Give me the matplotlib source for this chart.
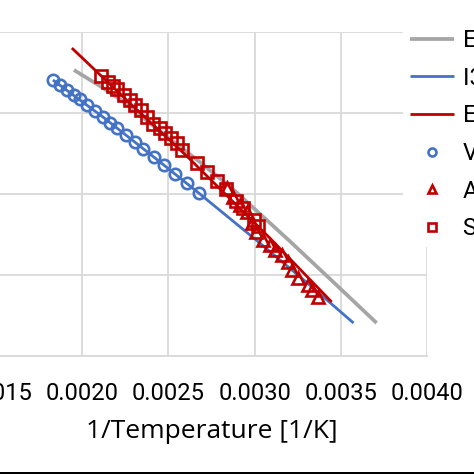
import matplotlib
matplotlib.use("Agg")
import matplotlib.pyplot as plt
from matplotlib.patches import Rectangle

plt.rcParams['font.family'] = ['Roboto', 'DejaVu Sans']
plt.rcParams['font.size'] = 17

# ---- data (x = 1/T [1/K], y = arbitrary log-scale units; y labels are cropped) ----
gray_x = [0.001952, 0.002103, 0.002218, 0.002450, 0.002682, 0.002867, 0.003203, 0.003493, 0.003708]
gray_y = [3.531, 3.333, 3.173, 2.778, 2.395, 2.074, 1.420, 0.840, 0.407]

blue_x = [0.001830, 0.002120, 0.002415, 0.002676, 0.003030, 0.003319, 0.003574]
blue_y = [3.407, 2.951, 2.457, 2.012, 1.395, 0.877, 0.407]

red_x = [0.001940, 0.002276, 0.002612, 0.003088, 0.003447]
red_y = [3.802, 3.123, 2.457, 1.457, 0.667]

circ_x = [0.001830, 0.001871, 0.001911, 0.001952, 0.001987, 0.002027, 0.002074, 0.002120, 0.002161,
          0.002201, 0.002253, 0.002305, 0.002352, 0.002415, 0.002473, 0.002537, 0.002607, 0.002676]
circ_y = [3.407, 3.346, 3.284, 3.222, 3.173, 3.099, 3.025, 2.951, 2.877,
          2.815, 2.728, 2.642, 2.556, 2.457, 2.358, 2.247, 2.136, 2.012]

tri_x = [0.002838, 0.002873, 0.002914, 0.002954, 0.002983, 0.003006, 0.003047, 0.003088,
         0.003117, 0.003157, 0.003192, 0.003215, 0.003250, 0.003308, 0.003331, 0.003366]
tri_y = [2.074, 1.963, 1.864, 1.778, 1.642, 1.531, 1.432, 1.370,
         1.309, 1.247, 1.160, 1.062, 0.963, 0.877, 0.815, 0.728]

sq_x = [0.002108, 0.002149, 0.002178, 0.002201, 0.002242, 0.002276, 0.002305, 0.002340,
        0.002375, 0.002410, 0.002450, 0.002479, 0.002514, 0.002549, 0.002578, 0.002665,
        0.002723, 0.002780, 0.002833, 0.002891, 0.002931, 0.002995, 0.003018]
sq_y = [3.457, 3.383, 3.333, 3.296, 3.222, 3.160, 3.099, 3.037,
        2.951, 2.864, 2.815, 2.753, 2.691, 2.630, 2.543, 2.383,
        2.272, 2.160, 2.062, 1.914, 1.827, 1.679, 1.605]

x_ticks = [0.0015, 0.0020, 0.0025, 0.0030, 0.0035, 0.0040]
x_ticklabels = ["0.0015", "0.0020", "0.0025", "0.0030", "0.0035", "0.0040"]
y_ticks = [0, 1, 2, 3, 4]

labels = ["EOS prediction", "I3 model", "Eq. fit", "Vapor pressure data", "Antoine data", "Saturation data"]

GRAY = "#A5A5A5"
BLUE = "#4472C4"
RED = "#C00000"
GRID = "#D9D9D9"

fig = plt.figure(figsize=(4.74, 4.74), dpi=100)
W = H = 474.0
ax = fig.add_axes([-4 / W, 118 / H, 431 / W, 324 / H])

ax.plot(gray_x, gray_y, color=GRAY, lw=2.7, label=labels[0], zorder=3, solid_capstyle='butt')
ax.plot(blue_x, blue_y, color=BLUE, lw=2.0, label=labels[1], zorder=3, solid_capstyle='butt')
ax.plot(red_x, red_y, color=RED, lw=2.0, label=labels[2], zorder=3, solid_capstyle='butt')
ax.plot(circ_x, circ_y, ls='none', marker='o', ms=8.2, mew=1.9, mfc='none', mec=BLUE,
        label=labels[3], zorder=4)
ax.plot(tri_x, tri_y, ls='none', marker='^', ms=8.2, mew=1.9, mfc='none', mec=RED,
        label=labels[4], zorder=4)
ax.plot(sq_x, sq_y, ls='none', marker='s', ms=8.2, mew=1.9, mfc='none', mec=RED,
        label=labels[5], zorder=4)

ax.set_xlim(0.0015, 0.0040)
ax.set_ylim(0, 4)
ax.set_xticks(x_ticks)
ax.set_xticklabels(x_ticklabels)
ax.set_yticks(y_ticks)
ax.tick_params(axis='both', length=0)
ax.tick_params(axis='x', pad=18.5)
ax.tick_params(axis='y', labelleft=False)
ax.grid(True, color=GRID, lw=1.3)
ax.set_axisbelow(True)
for s in ['top', 'right', 'left']:
    ax.spines[s].set_visible(False)
ax.spines['bottom'].set_color(GRID)
ax.spines['bottom'].set_linewidth(1.3)
ax.set_xlabel("1/Temperature [1/K]", labelpad=10, fontsize=19, family=['Open Sans', 'DejaVu Sans'])

leg = ax.legend(loc='upper left', bbox_to_anchor=(403 / W, 1 - 22 / H), bbox_transform=fig.transFigure,
                frameon=True, fancybox=False, edgecolor='none', facecolor='white', framealpha=1,
                handlelength=1.86, handletextpad=0.38, labelspacing=0.62, borderaxespad=0,
                borderpad=0.3, markerscale=0.7)

fig.add_artist(Rectangle((0, 0), 1, 2.5 / H, transform=fig.transFigure, color='black', lw=0))

fig.savefig("out.png", dpi=100)
